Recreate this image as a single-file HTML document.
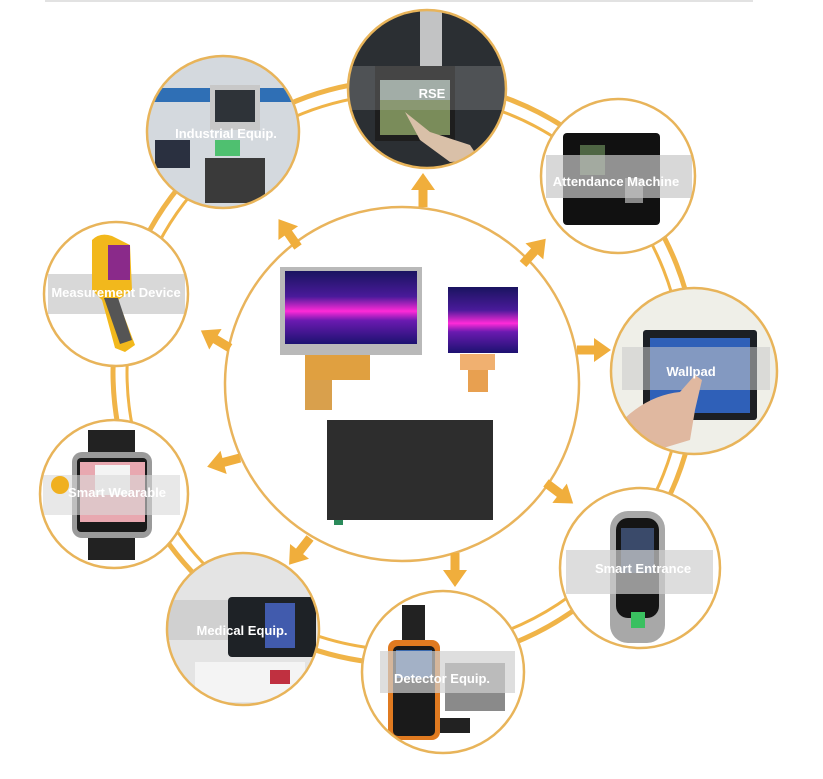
<!DOCTYPE html>
<html><head><meta charset="utf-8"><style>
html,body{margin:0;padding:0;background:#fff;}
svg{display:block;}
text{font-family:"Liberation Sans",sans-serif;font-weight:bold;font-size:13px;fill:#fff;}
</style></head><body>
<svg width="823" height="779" viewBox="0 0 823 779" xmlns="http://www.w3.org/2000/svg">
<defs>
<linearGradient id="scr" x1="0" y1="0" x2="0" y2="1">
<stop offset="0" stop-color="#1a1460"/><stop offset="0.35" stop-color="#4a1a9a"/>
<stop offset="0.55" stop-color="#ff2ad8"/><stop offset="0.68" stop-color="#6a1ab0"/>
<stop offset="1" stop-color="#1c1270"/></linearGradient>
<clipPath id="cInd"><circle cx="223" cy="132" r="76"/></clipPath>
<clipPath id="cRse"><circle cx="427" cy="89" r="79"/></clipPath>
<clipPath id="cAtt"><circle cx="618" cy="176" r="77"/></clipPath>
<clipPath id="cMea"><circle cx="116" cy="294" r="72"/></clipPath>
<clipPath id="cWal"><circle cx="694" cy="371" r="83"/></clipPath>
<clipPath id="cWea"><circle cx="114" cy="494" r="74"/></clipPath>
<clipPath id="cMed"><circle cx="243" cy="629" r="76"/></clipPath>
<clipPath id="cEnt"><circle cx="640" cy="568" r="80"/></clipPath>
<clipPath id="cDet"><circle cx="443" cy="672" r="81"/></clipPath>
<path id="arr" d="M0,-4.5 L17,-4.5 L17,-12 L34,0 L17,12 L17,4.5 L0,4.5 Z" fill="#f0ae3c"/>
</defs>
<rect x="45" y="0" width="708" height="2" fill="#e2e2e2"/>
<!-- outer ring -->
<circle cx="405" cy="372" r="292" fill="none" stroke="#f0b448" stroke-width="5"/>
<circle cx="405" cy="372" r="278" fill="none" stroke="#f0b448" stroke-width="3"/>
<!-- central circle -->
<circle cx="402" cy="384" r="177" fill="#fff" stroke="#e9b45c" stroke-width="2.5"/>
<!-- arrows -->
<use href="#arr" transform="translate(423,207) rotate(-90)"/>
<use href="#arr" transform="translate(298,247) rotate(-125)"/>
<use href="#arr" transform="translate(523,264) rotate(-48)"/>
<use href="#arr" transform="translate(230,348) rotate(-149)"/>
<use href="#arr" transform="translate(577,350) rotate(0)"/>
<use href="#arr" transform="translate(240,458) rotate(165)"/>
<use href="#arr" transform="translate(310,538) rotate(128)"/>
<use href="#arr" transform="translate(455,553) rotate(90)"/>
<use href="#arr" transform="translate(546,483) rotate(37)"/>
<!-- center LCDs -->
<rect x="280" y="267" width="142" height="88" fill="#b9b9b9"/>
<rect x="285" y="271" width="132" height="73" fill="url(#scr)"/>
<rect x="305" y="355" width="65" height="25" fill="#e0a040"/>
<rect x="305" y="380" width="27" height="30" fill="#d9a04c"/>
<rect x="448" y="287" width="70" height="66" fill="url(#scr)"/>
<rect x="460" y="354" width="35" height="16" fill="#f0b070"/>
<rect x="468" y="370" width="20" height="22" fill="#e8a050"/>
<rect x="327" y="420" width="166" height="100" fill="#2d2d2d"/>
<rect x="334" y="520" width="9" height="5" fill="#2a8a5a"/>

<!-- Industrial -->
<g clip-path="url(#cInd)">
<rect x="140" y="50" width="170" height="170" fill="#d4d9de"/>
<rect x="140" y="88" width="170" height="14" fill="#2f6fb5"/>
<rect x="210" y="85" width="50" height="45" fill="#c8c8c8"/>
<rect x="215" y="90" width="40" height="32" fill="#2e3338"/>
<rect x="215" y="140" width="25" height="16" fill="#4fc070"/>
<rect x="205" y="158" width="60" height="45" fill="#3a3a3a"/>
<rect x="155" y="140" width="35" height="28" fill="#2a3040"/>
</g>
<circle cx="223" cy="132" r="76" fill="none" stroke="#e8b45a" stroke-width="2.5"/>
<text x="226" y="138" text-anchor="middle">Industrial Equip.</text>

<!-- RSE -->
<g clip-path="url(#cRse)">
<rect x="345" y="8" width="165" height="165" fill="#2b2f33"/>
<rect x="420" y="10" width="22" height="60" fill="#e8e8e8" opacity="0.8"/>
<rect x="375" y="66" width="80" height="75" fill="#1e1e1e"/>
<rect x="380" y="80" width="70" height="55" fill="#7a8c5a"/>
<rect x="380" y="80" width="70" height="20" fill="#9aa8a0"/>
<rect x="345" y="66" width="165" height="44" fill="#bbb" opacity="0.25"/>
<path d="M405,112 L430,132 L470,145 L480,160 L450,162 L420,140 Z" fill="#d9c0a8"/>
</g>
<circle cx="427" cy="89" r="79" fill="none" stroke="#e8b45a" stroke-width="2.5"/>
<text x="432" y="98" text-anchor="middle">RSE</text>

<!-- Attendance -->
<g clip-path="url(#cAtt)">
<rect x="538" y="96" width="160" height="160" fill="#fff"/>
<rect x="563" y="133" width="97" height="92" rx="4" fill="#111"/>
<rect x="580" y="145" width="25" height="30" fill="#6a8a5a" opacity="0.7"/>
<rect x="625" y="178" width="18" height="25" fill="#888"/>
<rect x="546" y="155" width="146" height="43" fill="#c8c8c8" opacity="0.7"/>
</g>
<circle cx="618" cy="176" r="77" fill="none" stroke="#e8b45a" stroke-width="2.5"/>
<text x="616" y="186" text-anchor="middle">Attendance Machine</text>

<!-- Measurement -->
<g clip-path="url(#cMea)">
<rect x="40" y="220" width="152" height="150" fill="#fff"/>
<rect x="48" y="274" width="137" height="40" fill="#d8d8d8"/>
<path d="M92,240 Q100,232 112,236 L130,245 L132,290 L118,300 L135,345 L125,352 L115,348 L102,300 L92,290 Z" fill="#f2b81c"/>
<rect x="108" y="245" width="22" height="35" fill="#8a2a8a"/>
<path d="M104,298 L118,298 L132,340 L120,344 Z" fill="#555"/>
</g>
<circle cx="116" cy="294" r="72" fill="none" stroke="#e8b45a" stroke-width="2.5"/>
<text x="116" y="297" text-anchor="middle">Measurement Device</text>

<!-- Wallpad -->
<g clip-path="url(#cWal)">
<rect x="608" y="285" width="172" height="172" fill="#efefe8"/>
<rect x="643" y="330" width="114" height="90" rx="3" fill="#1c1f24"/>
<rect x="650" y="338" width="100" height="75" fill="#2f60b8"/>
<rect x="622" y="347" width="148" height="43" fill="#c8c8c8" opacity="0.55"/>
<path d="M625,418 Q650,395 680,392 L695,375 L702,380 L695,410 L690,440 L640,455 L620,440 Z" fill="#e0b8a0"/>
</g>
<circle cx="694" cy="371" r="83" fill="none" stroke="#e8b45a" stroke-width="2.5"/>
<text x="691" y="376" text-anchor="middle">Wallpad</text>

<!-- Smart Wearable -->
<g clip-path="url(#cWea)">
<rect x="38" y="418" width="152" height="152" fill="#fff"/>
<rect x="88" y="430" width="47" height="30" fill="#222"/>
<rect x="88" y="528" width="47" height="32" fill="#222"/>
<rect x="72" y="452" width="80" height="86" rx="10" fill="#9a9a9a"/>
<rect x="77" y="458" width="70" height="74" rx="4" fill="#1a1a1a"/>
<rect x="80" y="462" width="65" height="60" fill="#e8a8b0"/>
<rect x="95" y="465" width="35" height="30" fill="#f4f4f4"/>
<rect x="43" y="475" width="137" height="40" fill="#d8d8d8" opacity="0.6"/>
<circle cx="60" cy="485" r="9" fill="#f0b020"/>
</g>
<circle cx="114" cy="494" r="74" fill="none" stroke="#e8b45a" stroke-width="2.5"/>
<text x="117" y="497" text-anchor="middle">Smart Wearable</text>

<!-- Medical -->
<g clip-path="url(#cMed)">
<rect x="165" y="551" width="157" height="157" fill="#e4e4e4"/>
<rect x="165" y="600" width="80" height="40" fill="#d0d0d0"/>
<rect x="228" y="597" width="88" height="60" rx="4" fill="#1e2226"/>
<rect x="265" y="603" width="30" height="45" fill="#4a6ad0" opacity="0.8"/>
<rect x="195" y="662" width="110" height="40" fill="#f4f4f4"/>
<rect x="270" y="670" width="20" height="14" fill="#c03040"/>
</g>
<circle cx="243" cy="629" r="76" fill="none" stroke="#e8b45a" stroke-width="2.5"/>
<text x="242" y="635" text-anchor="middle">Medical Equip.</text>

<!-- Smart Entrance -->
<g clip-path="url(#cEnt)">
<rect x="558" y="486" width="166" height="166" fill="#fff"/>
<rect x="610" y="511" width="55" height="132" rx="18" fill="#a8a8a8"/>
<rect x="616" y="518" width="43" height="100" rx="12" fill="#151515"/>
<rect x="621" y="528" width="33" height="45" fill="#3a4a6a"/>
<rect x="631" y="612" width="14" height="16" fill="#3ac060"/>
<rect x="566" y="550" width="147" height="44" fill="#cfcfcf" opacity="0.7"/>
</g>
<circle cx="640" cy="568" r="80" fill="none" stroke="#e8b45a" stroke-width="2.5"/>
<text x="643" y="573" text-anchor="middle">Smart Entrance</text>

<!-- Detector -->
<g clip-path="url(#cDet)">
<rect x="360" y="590" width="168" height="168" fill="#fff"/>
<rect x="402" y="605" width="23" height="38" fill="#222"/>
<rect x="388" y="640" width="52" height="100" rx="8" fill="#e07a20"/>
<rect x="393" y="646" width="42" height="90" rx="5" fill="#1a1a1a"/>
<rect x="396" y="650" width="36" height="28" fill="#3a6ab0"/>
<rect x="445" y="663" width="60" height="48" fill="#8a8a8a"/>
<rect x="440" y="718" width="30" height="15" fill="#222"/>
<rect x="380" y="651" width="135" height="42" fill="#d0d0d0" opacity="0.7"/>
</g>
<circle cx="443" cy="672" r="81" fill="none" stroke="#e8b45a" stroke-width="2.5"/>
<text x="442" y="683" text-anchor="middle">Detector Equip.</text>
</svg>
</body></html>
